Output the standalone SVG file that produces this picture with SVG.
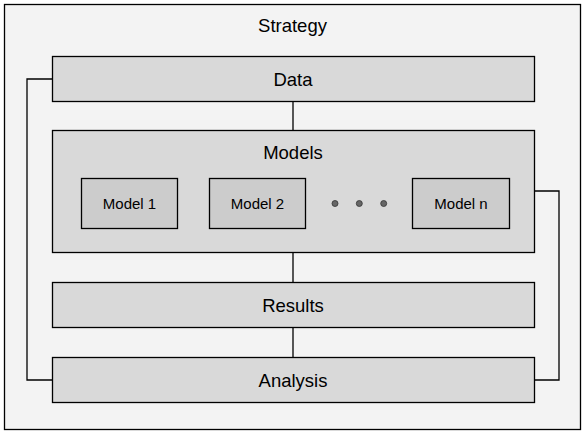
<svg xmlns="http://www.w3.org/2000/svg" width="587" height="435" viewBox="0 0 587 435">
<style>
.bg{fill:#f3f3f3;stroke:#000;stroke-width:1.3}
.box{fill:#d9d9d9;stroke:#000;stroke-width:1.3}
.mbox{fill:#cccccc;stroke:#000;stroke-width:1.3}
.big{font-family:"Liberation Sans",Arial,sans-serif;font-size:18.5px;fill:#000;text-anchor:middle}
.small{font-family:"Liberation Sans",Arial,sans-serif;font-size:15px;fill:#000;text-anchor:middle}
.conn{fill:none;stroke:#000;stroke-width:1.3}
.dot{fill:#666;stroke:#333;stroke-width:0.8}
</style>
<rect x="0" y="0" width="587" height="435" fill="#ffffff"/>
<g id="strategy">
<rect class="bg" x="4.5" y="4.5" width="576" height="425"/>
<text class="big" x="292.5" y="32">Strategy</text>
</g>
<g id="connectors">
<path class="conn" d="M52,79 H27 V380 H52"/>
<path class="conn" d="M534,191 H559 V380 H534"/>
<path class="conn" d="M293,101 V130"/>
<path class="conn" d="M293,252 V282"/>
<path class="conn" d="M293,327 V357"/>
</g>
<g id="data">
<rect class="box" x="52.5" y="56.5" width="482" height="45"/>
<text class="big" x="293" y="85.5">Data</text>
</g>
<g id="models">
<rect class="box" x="52.5" y="130.5" width="482" height="122"/>
<text class="big" x="293" y="159">Models</text>
</g>
<g id="model1">
<rect class="mbox" x="81.5" y="178.5" width="96" height="50"/>
<text class="small" x="129.5" y="208.5">Model 1</text>
</g>
<g id="model2">
<rect class="mbox" x="209.5" y="178.5" width="96" height="50"/>
<text class="small" x="257.5" y="208.5">Model 2</text>
</g>
<g id="dots">
<circle class="dot" cx="335" cy="203.5" r="3"/>
<circle class="dot" cx="359.3" cy="203.5" r="3"/>
<circle class="dot" cx="383.7" cy="203.5" r="3"/>
</g>
<g id="modeln">
<rect class="mbox" x="412.5" y="178.5" width="97" height="50"/>
<text class="small" x="461" y="208.5">Model n</text>
</g>
<g id="results">
<rect class="box" x="52.5" y="282.5" width="482" height="45"/>
<text class="big" x="293" y="311.5">Results</text>
</g>
<g id="analysis">
<rect class="box" x="52.5" y="357.5" width="482" height="45"/>
<text class="big" x="293" y="386.5">Analysis</text>
</g>
</svg>
